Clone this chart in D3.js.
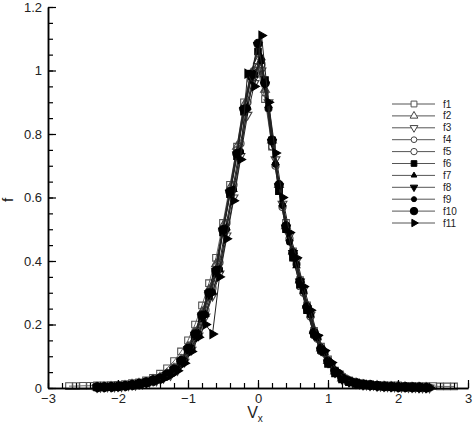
<!DOCTYPE html>
<html><head><meta charset="utf-8">
<script src="https://cdn.jsdelivr.net/npm/d3@7"></script>
<style>body{margin:0;background:#fff}svg{display:block;font-family:"Liberation Sans",Arial,sans-serif}</style>
</head><body>
<svg id="c" width="474" height="429"></svg>
<script>
// ---- data ----
const seriesNames = ["f1","f2","f3","f4","f5","f6","f7","f8","f9","f10","f11"];
const xTicks = [-3,-2,-1,0,1,2,3];
const yTicks = [0,0.2,0.4,0.6,0.8,1,1.2];
const yTickLabels = ["0","0.2","0.4","0.6","0.8","1","1.2"];
// x positions for f1 (wider range)
const xF1 = [-2.7,-2.6,-2.5,-2.4,-2.3,-2.2,-2.1,-2.0,-1.9,-1.8,-1.7,-1.6,-1.5,-1.4,-1.3,-1.2,-1.1,-1.0,-0.9,-0.8,-0.7,-0.6,-0.5,-0.4,-0.3,-0.2,-0.1,0.0,0.1,0.2,0.3,0.4,0.5,0.6,0.7,0.8,0.9,1.0,1.1,1.2,1.3,1.4,1.5,1.6,1.7,1.8,1.9,2.0,2.1,2.2,2.3,2.4,2.5,2.6,2.7,2.8];
// x positions for f2, f4, f6, f8, f10
const xs = [-2.3,-2.2,-2.1,-2.0,-1.9,-1.8,-1.7,-1.6,-1.5,-1.4,-1.3,-1.2,-1.1,-1.0,-0.9,-0.8,-0.7,-0.6,-0.5,-0.4,-0.3,-0.2,-0.1,0.0,0.1,0.2,0.3,0.4,0.5,0.6,0.7,0.8,0.9,1.0,1.1,1.2,1.3,1.4,1.5,1.6,1.7,1.8,1.9,2.0,2.1,2.2,2.3,2.4];
// x positions for f3, f5, f7, f9, f11
const xsB = [-2.25,-2.15,-2.05,-1.95,-1.85,-1.75,-1.65,-1.55,-1.45,-1.35,-1.25,-1.15,-1.05,-0.95,-0.85,-0.75,-0.65,-0.55,-0.45,-0.35,-0.25,-0.15,-0.05,0.05,0.15,0.25,0.35,0.45,0.55,0.65,0.75,0.85,0.95,1.05,1.15,1.25,1.35,1.45,1.55,1.65,1.75,1.85,1.95,2.05,2.15,2.25,2.35,2.45];
const f1 = [0.006,0.006,0.007,0.007,0.008,0.008,0.009,0.010,0.012,0.015,0.018,0.024,0.032,0.045,0.062,0.085,0.115,0.150,0.200,0.260,0.330,0.410,0.520,0.640,0.760,0.900,0.990,1.000,0.910,0.760,0.620,0.520,0.430,0.340,0.260,0.180,0.130,0.090,0.055,0.035,0.024,0.018,0.014,0.012,0.010,0.009,0.008,0.008,0.007,0.007,0.006,0.006,0.006,0.005,0.005,0.005];
const f2 = [0.002,0.003,0.004,0.006,0.007,0.011,0.014,0.017,0.026,0.033,0.045,0.062,0.090,0.130,0.175,0.240,0.310,0.390,0.510,0.630,0.760,0.890,0.990,1.030,0.940,0.780,0.640,0.510,0.430,0.340,0.260,0.180,0.125,0.085,0.052,0.030,0.021,0.015,0.010,0.008,0.007,0.005,0.004,0.004,0.003,0.002,0.002,0.001];
const f3 = [0.003,0.004,0.004,0.005,0.008,0.009,0.013,0.019,0.023,0.031,0.040,0.056,0.082,0.120,0.165,0.225,0.290,0.360,0.480,0.600,0.730,0.860,0.960,1.000,0.900,0.720,0.580,0.480,0.400,0.310,0.230,0.160,0.108,0.072,0.045,0.025,0.018,0.013,0.010,0.009,0.006,0.005,0.004,0.003,0.002,0.002,0.001,0.001];
const f4 = [0.002,0.003,0.005,0.005,0.006,0.010,0.012,0.018,0.025,0.034,0.046,0.060,0.088,0.128,0.178,0.235,0.305,0.385,0.495,0.610,0.750,0.870,0.970,1.010,0.930,0.760,0.620,0.500,0.410,0.320,0.245,0.165,0.115,0.082,0.050,0.031,0.021,0.015,0.012,0.009,0.007,0.005,0.004,0.003,0.003,0.002,0.002,0.002];
const f5 = [0.003,0.003,0.004,0.006,0.008,0.010,0.014,0.020,0.027,0.035,0.048,0.066,0.094,0.135,0.180,0.245,0.315,0.395,0.520,0.640,0.770,0.900,1.000,1.020,0.880,0.700,0.570,0.470,0.390,0.300,0.225,0.155,0.110,0.075,0.047,0.030,0.020,0.015,0.011,0.009,0.007,0.006,0.004,0.004,0.003,0.002,0.002,0.001];
const f6 = [0.002,0.003,0.003,0.004,0.006,0.009,0.012,0.016,0.022,0.029,0.040,0.055,0.080,0.118,0.162,0.220,0.290,0.360,0.490,0.610,0.730,0.870,0.990,1.060,0.970,0.780,0.620,0.500,0.410,0.325,0.245,0.170,0.120,0.076,0.046,0.027,0.018,0.013,0.010,0.008,0.006,0.004,0.003,0.003,0.002,0.002,0.001,0.001];
const f7 = [0.003,0.003,0.004,0.005,0.007,0.011,0.014,0.019,0.025,0.031,0.043,0.060,0.087,0.127,0.172,0.232,0.302,0.372,0.505,0.625,0.745,0.885,0.985,1.040,0.890,0.710,0.580,0.470,0.385,0.305,0.230,0.160,0.112,0.075,0.047,0.027,0.019,0.014,0.011,0.008,0.006,0.005,0.004,0.003,0.002,0.002,0.001,0.001];
const f8 = [0.002,0.003,0.004,0.005,0.007,0.010,0.013,0.017,0.023,0.030,0.041,0.057,0.083,0.122,0.168,0.228,0.298,0.368,0.495,0.615,0.735,0.875,0.975,1.080,0.955,0.775,0.635,0.505,0.425,0.335,0.250,0.168,0.118,0.080,0.049,0.028,0.019,0.014,0.010,0.008,0.006,0.005,0.004,0.003,0.003,0.002,0.001,0.001];
const f9 = [0.003,0.004,0.004,0.006,0.007,0.010,0.013,0.018,0.024,0.032,0.044,0.059,0.086,0.126,0.171,0.231,0.301,0.375,0.500,0.625,0.745,0.880,0.990,1.030,0.880,0.705,0.575,0.460,0.390,0.305,0.230,0.158,0.112,0.077,0.048,0.028,0.020,0.014,0.011,0.008,0.006,0.005,0.004,0.003,0.003,0.002,0.002,0.001];
const f10 = [0.003,0.003,0.004,0.005,0.007,0.010,0.014,0.019,0.025,0.031,0.043,0.059,0.086,0.124,0.170,0.229,0.299,0.369,0.498,0.618,0.738,0.878,0.985,1.085,0.960,0.780,0.640,0.510,0.425,0.335,0.255,0.175,0.124,0.084,0.053,0.031,0.021,0.015,0.011,0.009,0.007,0.005,0.004,0.003,0.003,0.002,0.002,0.001];
const f11 = [0.002,0.003,0.003,0.005,0.006,0.009,0.012,0.017,0.022,0.029,0.040,0.054,0.078,0.115,0.160,0.200,0.170,0.350,0.470,0.590,0.720,0.990,0.950,1.110,0.900,0.740,0.600,0.490,0.410,0.320,0.245,0.165,0.118,0.080,0.050,0.030,0.020,0.015,0.011,0.009,0.007,0.005,0.004,0.003,0.003,0.002,0.002,0.001];

// ---- styles ----
const markerDefs = [
  {type:d3.symbolSquare,  size:44, lsize:34, fill:"none", stroke:"#555", rot:0},
  {type:d3.symbolTriangle,size:34, lsize:26, fill:"none", stroke:"#444", rot:0},
  {type:d3.symbolTriangle,size:34, lsize:26, fill:"none", stroke:"#444", rot:180},
  {type:d3.symbolCircle,  size:34, lsize:26, fill:"none", stroke:"#444", rot:0},
  {type:d3.symbolCircle,  size:40, lsize:32, fill:"none", stroke:"#444", rot:0},
  {type:d3.symbolSquare,  size:42, lsize:32, fill:"#000", stroke:"#000", rot:0},
  {type:d3.symbolTriangle,size:20, lsize:14, fill:"#000", stroke:"#000", rot:0},
  {type:d3.symbolTriangle,size:32, lsize:24, fill:"#000", stroke:"#000", rot:180},
  {type:d3.symbolCircle,  size:28, lsize:20, fill:"#000", stroke:"#000", rot:0},
  {type:d3.symbolCircle,  size:56, lsize:44, fill:"#000", stroke:"#000", rot:0},
  {type:d3.symbolTriangle,size:34, lsize:24, fill:"#000", stroke:"#000", rot:90}
];
const allSeries = [
  {name:"f1", x:xF1, y:f1},{name:"f2", x:xs, y:f2},{name:"f3", x:xsB, y:f3},
  {name:"f4", x:xs, y:f4},{name:"f5", x:xsB, y:f5},{name:"f6", x:xs, y:f6},
  {name:"f7", x:xsB, y:f7},{name:"f8", x:xs, y:f8},{name:"f9", x:xsB, y:f9},
  {name:"f10", x:xs, y:f10},{name:"f11", x:xsB, y:f11}
];

const svg = d3.select("#c");
const x = d3.scaleLinear().domain([-3,3]).range([48,468]);
const y = d3.scaleLinear().domain([0,1.2]).range([388,7]);

// series
const line = d3.line().x(d=>x(d[0])).y(d=>y(d[1]));
allSeries.forEach((s,i)=>{
  const pts = s.y.map((v,k)=>[s.x[k],v]).filter(p=>p[0]!==undefined);
  const m = markerDefs[i];
  const g = svg.append("g");
  g.append("path").attr("d",line(pts)).attr("fill","none")
    .attr("stroke", i===0 ? "#666" : "#222").attr("stroke-width",1);
  const sym = d3.symbol().type(m.type).size(m.size);
  g.selectAll("path.m").data(pts).join("path").attr("class","m")
    .attr("d",sym())
    .attr("transform",d=>`translate(${x(d[0])},${y(d[1])}) rotate(${m.rot})`)
    .attr("fill",m.fill).attr("stroke",m.stroke).attr("stroke-width",1.1);
});

// axes
const minorX = d3.range(-3,3.001,0.2).map(v=>+v.toFixed(2));
const minorY = d3.range(0,1.2001,0.05).map(v=>+v.toFixed(2));
const gx = svg.append("g").attr("transform","translate(0,388)");
gx.call(d3.axisBottom(x).tickValues(minorX).tickSize(-5).tickSizeOuter(0).tickFormat(""));
gx.call(g=>g.selectAll("text").remove());
const gx2 = svg.append("g").attr("transform","translate(0,388)");
gx2.call(d3.axisBottom(x).tickValues(xTicks).tickSize(-8).tickSizeOuter(0).tickPadding(6).tickFormat(d3.format("")));
const gy = svg.append("g").attr("transform","translate(48,0)");
gy.call(d3.axisLeft(y).tickValues(minorY).tickSize(-5).tickSizeOuter(0).tickFormat(""));
const gy2 = svg.append("g").attr("transform","translate(48,0)");
gy2.call(d3.axisLeft(y).tickValues(yTicks).tickSize(-8).tickSizeOuter(0).tickPadding(6).tickFormat((d,i)=>yTickLabels[i]));
svg.selectAll(".domain").attr("stroke","#000").attr("stroke-width",1.5);
svg.selectAll(".tick line").attr("stroke","#000").attr("stroke-width",1.2);
svg.selectAll(".tick text").attr("font-size",13).attr("fill","#222").attr("font-family","'Liberation Sans',Arial,sans-serif");

// axis titles
svg.append("text").attr("transform","translate(13,200) rotate(-90)").attr("text-anchor","middle")
  .attr("font-size",15).attr("fill","#222").text("f");
const xt = svg.append("text").attr("x",255).attr("y",418).attr("text-anchor","middle").attr("font-size",16).attr("fill","#222");
xt.append("tspan").text("V");
xt.append("tspan").attr("font-size",10).attr("dy",4).text("x");

// legend
const lg = svg.append("g");
seriesNames.forEach((n,i)=>{
  const ly = 104 + i*11.9;
  const m = markerDefs[i];
  lg.append("line").attr("x1",392).attr("x2",435).attr("y1",ly).attr("y2",ly).attr("stroke","#555").attr("stroke-width",1);
  lg.append("path").attr("d",d3.symbol().type(m.type).size(m.lsize)())
    .attr("transform",`translate(414,${ly}) rotate(${m.rot})`)
    .attr("fill",m.fill==="none"?"#fff":m.fill).attr("stroke",m.stroke).attr("stroke-width",1);
  lg.append("text").attr("x",443).attr("y",ly).attr("dy","0.35em").attr("font-size",10).attr("fill","#222").text(n);
});
</script>
</body></html>
